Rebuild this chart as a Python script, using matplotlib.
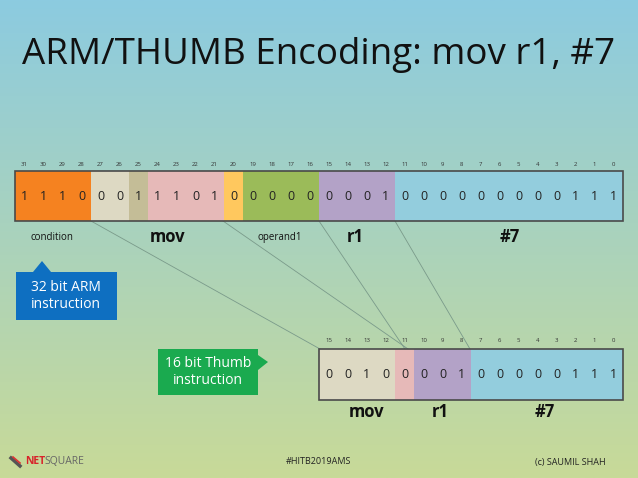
import numpy as np
import matplotlib
matplotlib.use("Agg")
import matplotlib.pyplot as plt
from matplotlib.patches import Rectangle, Polygon

arm_bits = [1,1,1,0, 0,0,1, 1,1,0,1, 0, 0,0,0,0, 0,0,0,1, 0,0,0,0,0,0,0,0,0,1,1,1]
thumb_bits = [0,0,1,0, 0, 0,0,1, 0,0,0,0,0,1,1,1]
# field widths (bits) and colors, MSB first
arm_fields = [4, 2, 1, 4, 1, 4, 4, 12]
arm_colors = ["#f58220", "#ddd9c3", "#c4bd97", "#e6b9b8", "#ffc85e", "#9bbb59", "#b3a2c7", "#93cddd"]
thumb_fields = [4, 1, 3, 8]
thumb_colors = ["#ddd9c3", "#e6b9b8", "#b3a2c7", "#93cddd"]
arm_labels = [("condition", 52, False), ("mov", 168, True), ("operand1", 280, False), ("r1", 355, True), ("#7", 510, True)]
thumb_labels = [("mov", 367, True), ("r1", 440, True), ("#7", 545, True)]

FONT = "Open Sans"
fig = plt.figure(figsize=(6.38, 4.78), dpi=100)
ax = fig.add_axes([0, 0, 1, 1])
ax.set_xlim(0, 638); ax.set_ylim(478, 0); ax.axis("off")

top = np.array([0x8c, 0xcb, 0xe0]) / 255
bot = np.array([0xc8, 0xda, 0x98]) / 255
t = np.linspace(0, 1, 256)[:, None]
grad = (top[None, :] * (1 - t) + bot[None, :] * t)[:, None, :]
ax.imshow(grad, extent=[0, 638, 478, 0], aspect="auto", zorder=0)

ax.text(319, 55, "ARM/THUMB Encoding: mov r1, #7", ha="center", va="center",
        fontsize=26.5, family=FONT, color="#111111")

W = 19.0
def draw_row(x0, y0, h, bits, fields, colors, numy):
    n = len(bits)
    i = 0
    for f, c in zip(fields, colors):
        ax.add_patch(Rectangle((x0 + i * W, y0), f * W, h, facecolor=c, edgecolor="none", zorder=2))
        i += f
    ax.add_patch(Rectangle((x0, y0), n * W, h, facecolor="none", edgecolor="#4a4a4a", lw=1.2, zorder=3))
    for k, b in enumerate(bits):
        cx = x0 + (k + 0.5) * W
        ax.text(cx, y0 + h / 2, str(b), ha="center", va="center", fontsize=9, family=FONT, color="#222222", zorder=4)
        ax.text(cx, numy, str(n - 1 - k), ha="center", va="center", fontsize=4.3, family=FONT, color="#333333", zorder=4)

draw_row(15, 171, 50, arm_bits, arm_fields, arm_colors, 165)
draw_row(319, 349, 51, thumb_bits, thumb_fields, thumb_colors, 341)

for (x1, y1, x2, y2) in [(91, 221, 320, 349), (223, 221, 408, 349), (319, 221, 405, 349), (395, 221, 470, 349)]:
    ax.plot([x1, x2], [y1, y2], color="#7a9a8a", lw=0.6, zorder=1)

for txt, x, bold in arm_labels:
    ax.text(x, 237, txt, ha="center", va="center", family=FONT,
            fontsize=12 if bold else 7, fontweight="bold" if bold else "normal", color="#111111")
for txt, x, bold in thumb_labels:
    ax.text(x, 412, txt, ha="center", va="center", family=FONT,
            fontsize=12, fontweight="bold", color="#111111")

ax.add_patch(Polygon([(16, 272), (33, 272), (42, 261), (51, 272), (117, 272), (117, 320), (16, 320)],
                     closed=True, facecolor="#0e6fc1", edgecolor="none", zorder=2))
ax.text(66, 296, "32 bit ARM\ninstruction", ha="center", va="center", family=FONT,
        fontsize=10, color="white", linespacing=1.2, zorder=3)
ax.add_patch(Polygon([(158, 349), (258, 349), (258, 355), (268, 362), (258, 370), (258, 395), (158, 395)],
                     closed=True, facecolor="#1aaa4f", edgecolor="none", zorder=2))
ax.text(208, 372, "16 bit Thumb\ninstruction", ha="center", va="center", family=FONT,
        fontsize=10, color="white", linespacing=1.2, zorder=3)

ax.plot([11, 20], [458, 466], color="#555555", lw=2.5)
ax.plot([13, 20], [457, 463], color="#d33", lw=1.2)
ax.text(25, 462, "NET", ha="left", va="center", family=FONT, fontsize=7.5, fontweight="bold", color="#d8232a")
ax.text(44, 462, "SQUARE", ha="left", va="center", family=FONT, fontsize=7.5, color="#666666")
ax.text(318, 462, "#HITB2019AMS", ha="center", va="center", family=FONT, fontsize=6.5, color="#222222")
ax.text(570, 462, "(c) SAUMIL SHAH", ha="center", va="center", family=FONT, fontsize=6.5, color="#222222")

fig.savefig("out.png", dpi=100)
